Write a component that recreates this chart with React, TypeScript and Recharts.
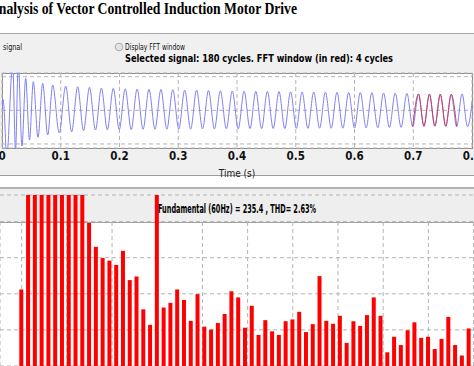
import React from "react";
import { LineChart, Line, BarChart, Bar, XAxis, YAxis, CartesianGrid } from "recharts";

// top panel: selected signal (V) vs time (s)
const timeTicks = [0, 0.1, 0.2, 0.3, 0.4, 0.5, 0.6, 0.7, 0.8];
const voltTicks = [-500, 0, 500];
const startTimes = [0, 0.002, 0.004];
const startVolts = [0, 160, -50];
const peakTimes = [
  0.0182, 0.0277, 0.0403, 0.0533, 0.0693, 0.0863, 0.1084, 0.1287, 0.1489, 0.1692,
  0.1894, 0.2097, 0.23, 0.2502, 0.2705, 0.2907, 0.311, 0.3312, 0.3515, 0.3717,
  0.392, 0.4121, 0.432, 0.4517, 0.4715, 0.4912, 0.5108, 0.5306, 0.5505, 0.5702,
  0.5901, 0.6099, 0.6296, 0.6495, 0.6693, 0.6892, 0.7089, 0.7275, 0.746, 0.7646,
  0.7831, 0.8017,
];
const peakVolts = [
  700, 700, 476, 425, 400, 376, 361, 351, 342, 332,
  327, 320, 317, 313, 310, 306, 302, 299, 295, 291,
  288, 285, 282, 280, 278, 276, 274, 272, 270, 268,
  266, 264, 262, 259, 256, 252, 242, 240, 240, 238,
  244, 246,
];
const troughTimes = [
  0.008, 0.023, 0.034, 0.0468, 0.0613, 0.0778, 0.0974, 0.1186, 0.1388, 0.1591,
  0.1793, 0.1996, 0.2199, 0.2401, 0.2604, 0.2806, 0.3009, 0.3211, 0.3414, 0.3616,
  0.3819, 0.4021, 0.4221, 0.4419, 0.4616, 0.4814, 0.501, 0.5207, 0.5406, 0.5604,
  0.5802, 0.6, 0.6198, 0.6396, 0.6594, 0.6793, 0.6991, 0.7182, 0.7368, 0.7553,
  0.7739, 0.7924,
];
const troughVolts = [
  -700, -600, -530, -442, -402, -367, -333, -318, -303, -293,
  -290, -286, -286, -282, -281, -280, -278, -279, -276, -276,
  -274, -275, -272, -272, -270, -271, -268, -268, -266, -266,
  -265, -264, -262, -259, -256, -252, -242, -236, -235, -236,
  -240, -244,
];
const fftWindow = [0.699, 0.774];

// bottom panel: spectrum, one bar per 3 Hz bin (clipped bars run past the top)
const binHz = 3;
const freqTicks = [0, 20, 40, 60, 80, 100, 120, 140, 160, 180, 200];
const magTicks = [0, 0.1, 0.2, 0.3, 0.4];
const magnitudes = [
  0.212, 0.9, 1.4, 1.1, 0.8, 1.0, 0.7, 0.6, 0.55, 0.5,
  0.396, 0.33, 0.299, 0.292, 0.28, 0.319, 0.238, 0.248, 0.157, 0.114,
  100, 0.162, 0.175, 0.212, 0.183, 0.125, 0.199, 0.109, 0.101, 0.119,
  0.144, 0.207, 0.19, 0.106, 0.167, 0.086, 0.127, 0.096, 0.086, 0.124,
  0.129, 0.15, 0.094, 0.116, 0.249, 0.125, 0.117, 0.139, 0.064, 0.124,
  0.111, 0.141, 0.19, 0.139, 0.038, 0.081, 0.058, 0.099, 0.121, 0.078,
  0.081, 0.047, 0.075, 0.136, 0.058, 0.029, 0.104,
];

const waveData: { t: number; v: number; red: number | null }[] = [];
startTimes.forEach((t, i) => waveData.push({ t, v: startVolts[i], red: null }));
peakTimes.forEach((t, i) => {
  waveData.push({ t: troughTimes[i], v: troughVolts[i], red: null });
  waveData.push({ t, v: peakVolts[i], red: null });
});
waveData.forEach((d) => {
  if (d.t >= fftWindow[0] && d.t <= fftWindow[1]) d.red = d.v;
});

const spectrum = magnitudes.map((mag, i) => ({ f: i * binHz, mag }));

const narrow = "'Liberation Sans Narrow', 'DejaVu Sans Condensed', 'Liberation Sans', sans-serif";
const gridColor = "#b4b4b4";

export default function App() {
  return (
    <div
      style={{
        position: "absolute",
        left: 0,
        top: 0,
        width: 474,
        height: 366,
        overflow: "hidden",
        background: "#fff",
      }}
    >
      {/* gui panels */}
      <div
        style={{
          position: "absolute",
          left: 0,
          top: 33,
          width: 474,
          height: 143,
          boxSizing: "border-box",
          background: "#f0f0f0",
          borderTop: "1px solid #a8a8a8",
          borderBottom: "1px solid #9c9c9c",
        }}
      />
      <div
        style={{
          position: "absolute",
          left: 2,
          top: 73,
          width: 471,
          height: 76,
          boxSizing: "border-box",
          background: "#fff",
          border: "1px solid #8c8c8c",
        }}
      />
      <div
        style={{
          position: "absolute",
          left: 0,
          top: 187,
          width: 474,
          height: 36,
          boxSizing: "border-box",
          background: "#eeeeee",
          borderTop: "2px solid #b4b4b4",
          borderBottom: "1px solid #a0a0a0",
        }}
      />

      <div style={{ position: "absolute", left: 0, top: 0 }}>
        <LineChart width={474} height={180} data={waveData} margin={{ top: 73, right: 2, bottom: 2, left: 2 }}>
          <CartesianGrid stroke={gridColor} strokeDasharray="4 3" />
          <XAxis
            dataKey="t"
            type="number"
            domain={[0, 0.8]}
            ticks={timeTicks}
            interval={0}
            allowDataOverflow
            axisLine={false}
            tickLine={false}
            tickSize={4}
            tickMargin={0}
            height={30}
            tick={{ fontSize: 11.5, fontWeight: "bold", fill: "#111", fontFamily: narrow }}
            label={{ value: "Time (s)", position: "insideBottom", offset: 1, fontSize: 10, fill: "#222", fontFamily: narrow }}
          />
          <YAxis hide type="number" domain={[-560, 555]} ticks={voltTicks} allowDataOverflow />
          <Line dataKey="v" type="monotone" stroke="#8080f6" strokeWidth={1} dot={false} isAnimationActive={false} />
          <Line
            dataKey="red"
            type="monotone"
            stroke="#cc3c5c"
            strokeWidth={1}
            dot={false}
            connectNulls={false}
            isAnimationActive={false}
          />
        </LineChart>
      </div>

      <div style={{ position: "absolute", left: 0, top: 180 }}>
        <BarChart width={474} height={186} data={spectrum} margin={{ top: 15, right: 0, bottom: 0, left: 0 }}>
          <CartesianGrid y={42} height={144} stroke={gridColor} strokeDasharray="4 3" />
          <XAxis hide dataKey="f" type="number" domain={[-9.6, 200.2]} ticks={freqTicks} allowDataOverflow />
          <YAxis hide type="number" domain={[0, 0.4737]} ticks={magTicks} allowDataOverflow />
          <Bar dataKey="mag" fill="#ff0000" barSize={4} isAnimationActive={false} />
        </BarChart>
      </div>

      <svg width={474} height={366} style={{ position: "absolute", left: 0, top: 0, pointerEvents: "none" }}>
        <text
          x={-11}
          y={14}
          fontFamily="'Liberation Serif', 'DejaVu Serif', serif"
          fontWeight="bold"
          fontSize={17}
          textLength={308}
          lengthAdjust="spacingAndGlyphs"
          fill="#000"
        >
          Analysis of Vector Controlled Induction Motor Drive
        </text>
        <text x={3} y={50} fontFamily={narrow} fontSize={9} textLength={19} lengthAdjust="spacingAndGlyphs" fill="#111">
          signal
        </text>
        <circle cx={119} cy={47} r={3.8} fill="#e4e4e4" stroke="#9a9a9a" strokeWidth={0.8} />
        <text x={125} y={49.5} fontFamily={narrow} fontSize={9} textLength={60} lengthAdjust="spacingAndGlyphs" fill="#111">
          Display FFT window
        </text>
        <text
          x={125}
          y={62}
          fontFamily={narrow}
          fontWeight="bold"
          fontSize={11}
          textLength={268}
          lengthAdjust="spacingAndGlyphs"
          fill="#000"
        >
          Selected signal: 180 cycles. FFT window (in red): 4 cycles
        </text>
        <text
          x={158}
          y={213}
          fontFamily={narrow}
          fontWeight="bold"
          fontSize={12}
          textLength={158}
          lengthAdjust="spacingAndGlyphs"
          fill="#000"
        >
          Fundamental (60Hz) = 235.4 , THD= 2.63%
        </text>
      </svg>
    </div>
  );
}
